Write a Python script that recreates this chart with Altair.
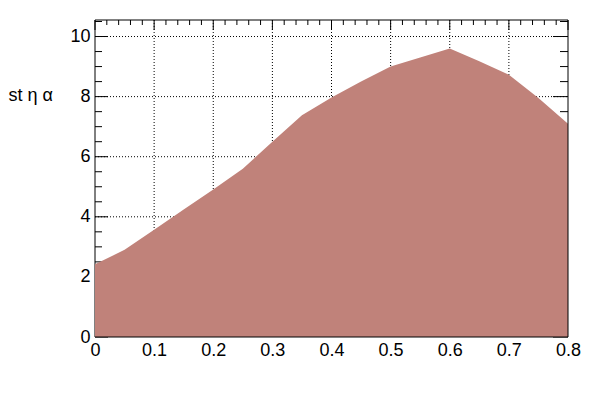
import altair as alt
import pandas as pd

# data
xs = [0.0, 0.05, 0.10, 0.15, 0.20, 0.25, 0.30, 0.35, 0.40, 0.45, 0.50, 0.55, 0.60, 0.65, 0.70, 0.75, 0.80]
ys = [2.42, 2.90, 3.57, 4.24, 4.91, 5.60, 6.50, 7.38, 7.97, 8.50, 9.00, 9.30, 9.60, 9.18, 8.73, 7.95, 7.10]

x_major = [0.0, 0.1, 0.2, 0.3, 0.4, 0.5, 0.6, 0.7, 0.8]
x_grid = [0.1, 0.2, 0.3, 0.4, 0.5, 0.6, 0.7]
y_major = [0, 2, 4, 6, 8, 10]
y_grid = [2, 4, 6, 8, 10]
x_minor = [round(i * 0.02, 2) for i in range(41) if i % 5 != 0]
y_minor = [i * 0.5 for i in range(22) if i % 4 != 0]

W, H = 473, 317
FONT = "Liberation Sans"
FILL = "#C0827A"

xsc = alt.Scale(domain=[0, 0.8], nice=False, zero=False)
ysc = alt.Scale(domain=[0, 10.55], nice=False, zero=False)

xax = alt.Axis(
    values=x_major, labelExpr="datum.value == 0 ? '0' : format(datum.value, '.1f')",
    domain=False, ticks=False, grid=False, labelFont=FONT, labelFontSize=18,
    labelColor="black", labelPadding=4, title=None, labelFlush=False, labelOverlap=False)
yax = alt.Axis(
    values=y_major, format="d", domain=False, ticks=False, grid=False,
    labelFont=FONT, labelFontSize=18, labelColor="black", labelPadding=5,
    labelFlush=False, labelOverlap=False,
    title="st η α", titleAngle=0, titleAlign="left", titleBaseline="middle",
    titleX=-87, titleY=75, titleFont=FONT, titleFontSize=18,
    titleFontWeight="normal", titleColor="black")

df = pd.DataFrame({"x": xs, "y": ys})

def vals(v):
    return pd.DataFrame({"x": v, "y": v})

xgrid = alt.Chart(vals(x_grid)).mark_rule(color="black", strokeWidth=1, strokeDash=[1, 2]).encode(
    x=alt.X("x:Q", scale=xsc, axis=xax), y=alt.value(0), y2=alt.value(H))
ygrid = alt.Chart(vals(y_grid)).mark_rule(color="black", strokeWidth=1, strokeDash=[1, 2]).encode(
    y=alt.Y("y:Q", scale=ysc, axis=yax), x=alt.value(0), x2=alt.value(W))

def yticks(values, length_l, length_r):
    left = alt.Chart(vals(values)).mark_rule(color="black", strokeWidth=1).encode(
        y=alt.Y("y:Q", scale=ysc, axis=yax), x=alt.value(0), x2=alt.value(length_l))
    right = alt.Chart(vals(values)).mark_rule(color="black", strokeWidth=1).encode(
        y=alt.Y("y:Q", scale=ysc, axis=yax), x=alt.value(W - length_r), x2=alt.value(W))
    return [left, right]

def xticks(values, length):
    return alt.Chart(vals(values)).mark_rule(color="black", strokeWidth=1).encode(
        x=alt.X("x:Q", scale=xsc, axis=xax), y=alt.value(0), y2=alt.value(length))

frame_top = alt.Chart(vals([0])).mark_rule(color="black", strokeWidth=1).encode(
    x=alt.value(0), x2=alt.value(W), y=alt.value(0))
frame_left = alt.Chart(vals([0])).mark_rule(color="black", strokeWidth=1).encode(
    x=alt.value(0), y=alt.value(0), y2=alt.value(H))

area = alt.Chart(df).mark_area(color=FILL, opacity=1, interpolate="linear").encode(
    x=alt.X("x:Q", scale=xsc, axis=xax),
    y=alt.Y("y:Q", scale=ysc, axis=yax),
)

frame_bottom = alt.Chart(vals([0])).mark_rule(color="black", strokeWidth=1).encode(
    x=alt.value(0), x2=alt.value(W), y=alt.value(H))
frame_right = alt.Chart(vals([0])).mark_rule(color="black", strokeWidth=1).encode(
    x=alt.value(W), y=alt.value(0), y2=alt.value(H))

chart = alt.layer(
    xgrid, ygrid,
    *yticks(y_major, 13, 15), *yticks(y_minor, 7, 8),
    xticks(x_major, 10), xticks(x_minor, 5),
    frame_top, frame_left,
    area,
    frame_bottom, frame_right,
).properties(
    width=W, height=H,
    autosize=alt.AutoSizeParams(type="none"),
    padding={"left": 87, "top": 12, "right": 20, "bottom": 40},
    background="white",
).configure_view(stroke=None)

chart.save("out.html", embed_options={"renderer": "svg", "actions": False})
